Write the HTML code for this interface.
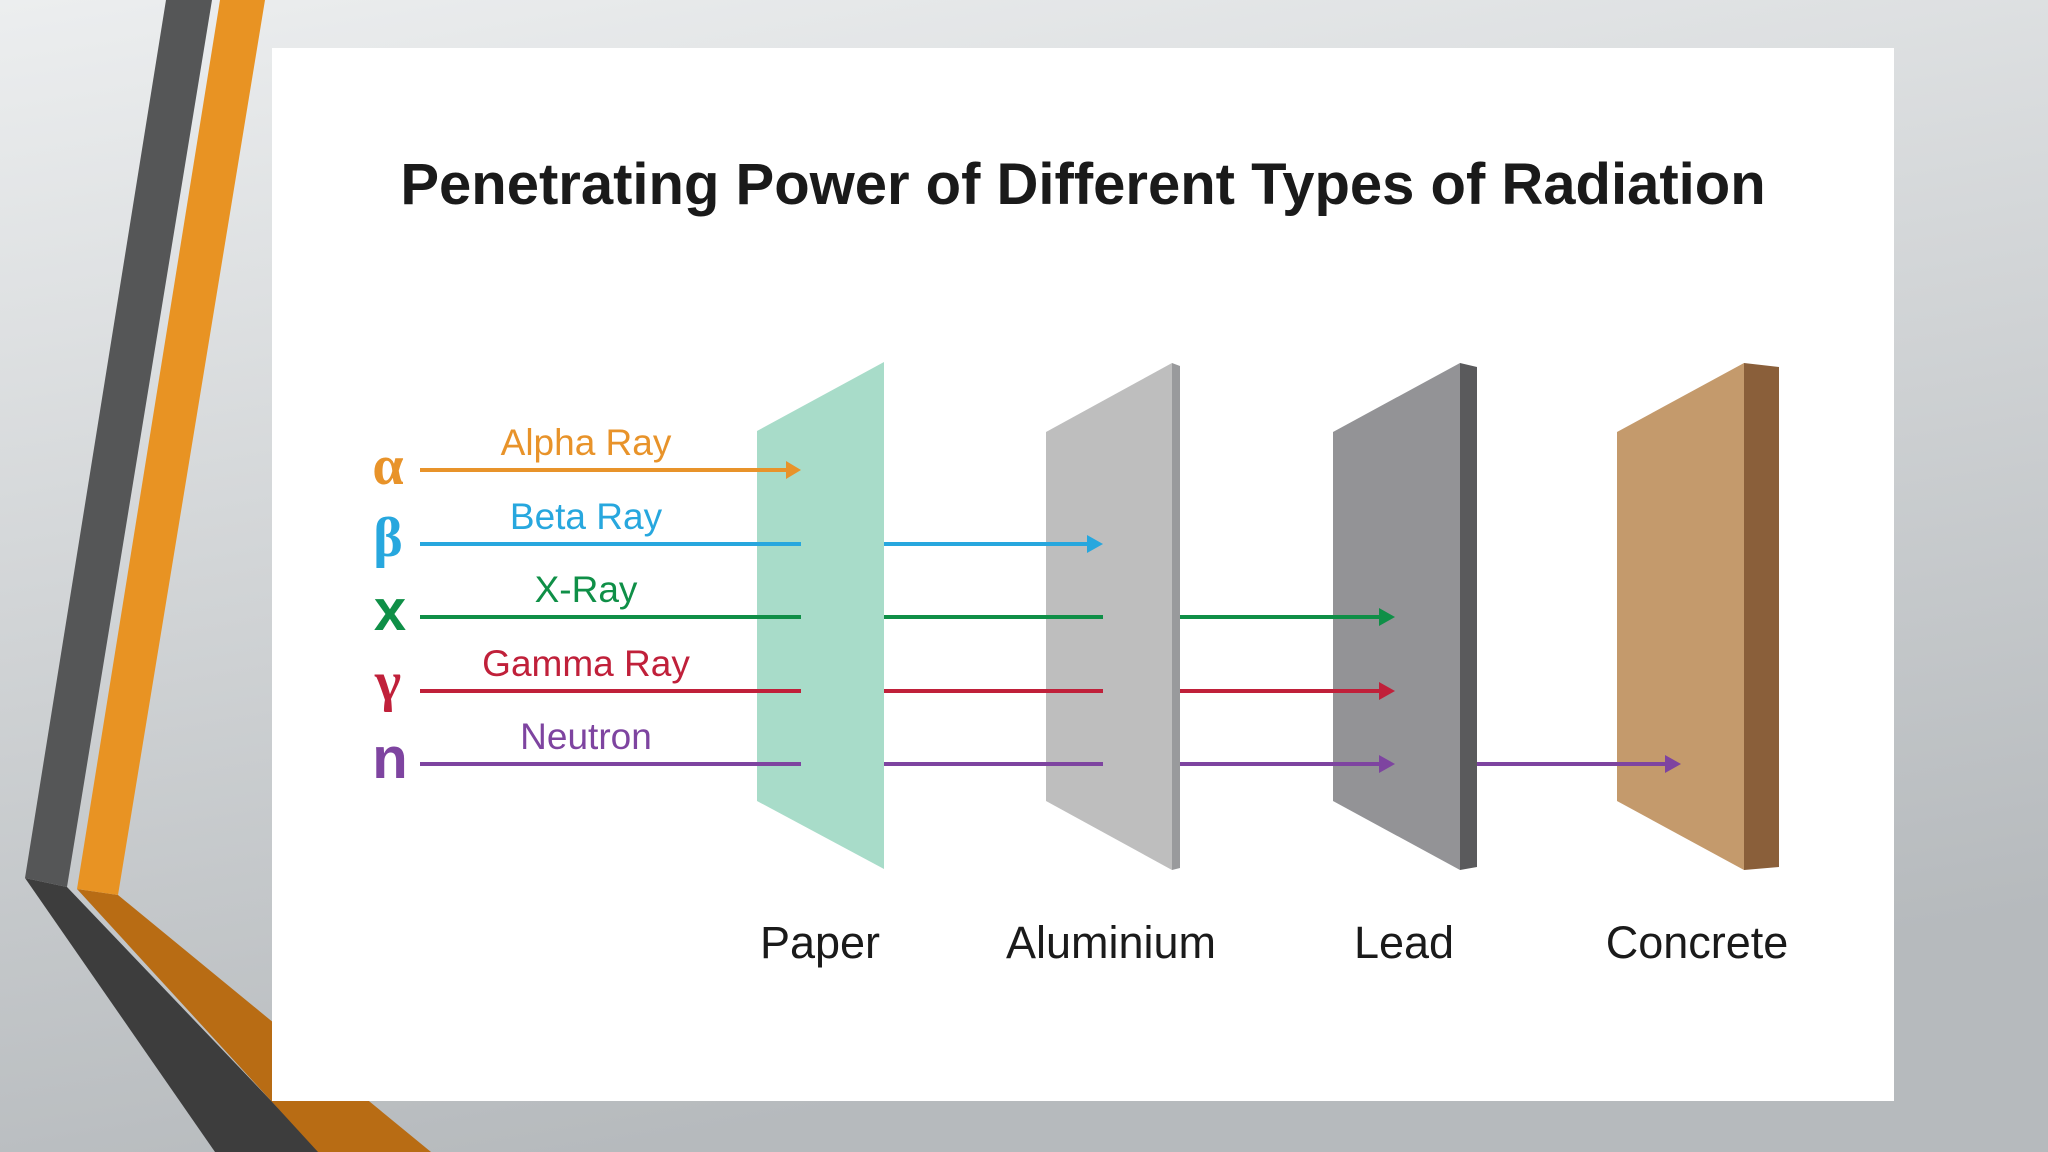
<!DOCTYPE html>
<html><head><meta charset="utf-8"><style>
html,body{margin:0;padding:0;width:2048px;height:1152px;overflow:hidden}
svg{display:block}
</style></head><body>
<svg width="2048" height="1152" viewBox="0 0 2048 1152" xmlns="http://www.w3.org/2000/svg">
<defs>
<linearGradient id="bg" x1="0" y1="0" x2="0.3" y2="1">
<stop offset="0" stop-color="#eceeef"/><stop offset="1" stop-color="#b6babd"/>
</linearGradient>
</defs>
<rect width="2048" height="1152" fill="url(#bg)"/>
<polygon points="25,878 67,887 320,1152 215,1152" fill="#3d3d3d"/>
<polygon points="77,889 118,895 431,1152 318,1152" fill="#b86c14"/>
<polygon points="166,0 212,0 67,887 25,878" fill="#555657"/>
<polygon points="220,0 265,0 118,895 77,889" fill="#e89323"/>
<rect x="272" y="48" width="1622" height="1053" fill="#ffffff"/>
<text x="1083" y="204" text-anchor="middle" font-family="Liberation Sans, sans-serif" font-weight="bold" font-size="58" fill="#1a1a1a">Penetrating Power of Different Types of Radiation</text>
<polygon points="757,431 884,362 884,869 757,801" fill="#a8dcc9"/>
<polygon points="1046,432 1172,363 1172,870 1046,801" fill="#bebebe"/>
<polygon points="1172,363 1180,366 1180,868 1172,870" fill="#999a9c"/>
<polygon points="1333,432 1460,363 1460,870 1333,801" fill="#939396"/>
<polygon points="1460,363 1477,367 1477,867 1460,870" fill="#5a5a5c"/>
<polygon points="1617,432 1744,363 1744,870 1617,801" fill="#c49a6c"/>
<polygon points="1744,363 1779,367 1779,867 1744,870" fill="#8a5f3a"/>
<g font-family="Liberation Serif, DejaVu Serif, serif" font-weight="bold" font-size="56" text-anchor="middle">
<text x="388" y="484" fill="#e8932a">α</text>
<text x="388" y="556" fill="#27a7de">β</text>
<text x="390" y="630" fill="#0f8f47" font-family="Liberation Sans, sans-serif" font-size="58">x</text>
<text x="388" y="700" fill="#c0203a">γ</text>
<text x="390" y="778" fill="#7e44a0" font-family="Liberation Sans, sans-serif" font-size="58">n</text>
</g>
<g font-family="Liberation Sans, sans-serif" font-size="37" text-anchor="middle">
<text x="586" y="455" fill="#e8932a">Alpha Ray</text>
<text x="586" y="529" fill="#27a7de">Beta Ray</text>
<text x="586" y="602" fill="#0f8f47">X-Ray</text>
<text x="586" y="676" fill="#c0203a">Gamma Ray</text>
<text x="586" y="749" fill="#7e44a0">Neutron</text>
</g>
<g stroke-width="4">
<line x1="420" y1="470" x2="788" y2="470" stroke="#e8932a"/>
<polygon points="786,461 801,470 786,479" fill="#e8932a"/>
<line x1="420" y1="544" x2="801" y2="544" stroke="#27a7de"/>
<line x1="884" y1="544" x2="1090" y2="544" stroke="#27a7de"/>
<polygon points="1087,535 1103,544 1087,553" fill="#27a7de"/>
<line x1="420" y1="617" x2="801" y2="617" stroke="#0f8f47"/>
<line x1="884" y1="617" x2="1103" y2="617" stroke="#0f8f47"/>
<line x1="1180" y1="617" x2="1382" y2="617" stroke="#0f8f47"/>
<polygon points="1379,608 1395,617 1379,626" fill="#0f8f47"/>
<line x1="420" y1="691" x2="801" y2="691" stroke="#c0203a"/>
<line x1="884" y1="691" x2="1103" y2="691" stroke="#c0203a"/>
<line x1="1180" y1="691" x2="1382" y2="691" stroke="#c0203a"/>
<polygon points="1379,682 1395,691 1379,700" fill="#c0203a"/>
<line x1="420" y1="764" x2="801" y2="764" stroke="#7e44a0"/>
<line x1="884" y1="764" x2="1103" y2="764" stroke="#7e44a0"/>
<line x1="1180" y1="764" x2="1382" y2="764" stroke="#7e44a0"/>
<polygon points="1379,755 1395,764 1379,773" fill="#7e44a0"/>
<line x1="1477" y1="764" x2="1668" y2="764" stroke="#7e44a0"/>
<polygon points="1665,755 1681,764 1665,773" fill="#7e44a0"/>
</g>
<g font-family="Liberation Sans, sans-serif" font-size="45" text-anchor="middle" fill="#1a1a1a">
<text x="820" y="958">Paper</text>
<text x="1111" y="958">Aluminium</text>
<text x="1404" y="958">Lead</text>
<text x="1697" y="958">Concrete</text>
</g>
</svg>
</body></html>
